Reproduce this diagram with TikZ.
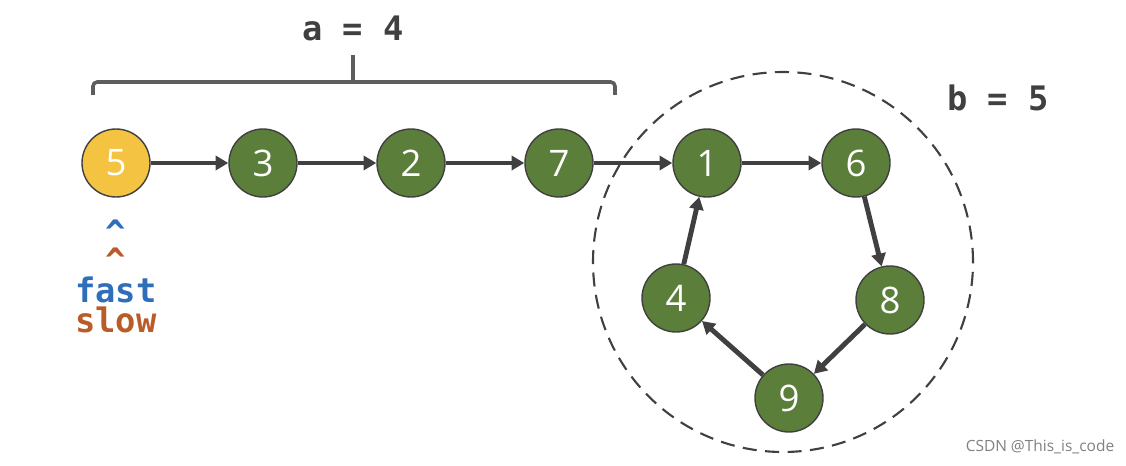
\documentclass[tikz,border=0pt]{standalone}
\usepackage{fontspec}
\setmainfont{Open Sans}
\newfontfamily\monob{DejaVu Sans Mono}
\usetikzlibrary{arrows.meta}
\definecolor{gn}{HTML}{5B7E3A}
\definecolor{yl}{HTML}{F5C342}
\definecolor{ar}{HTML}{404040}
\definecolor{bl}{HTML}{2F6FBA}
\definecolor{og}{HTML}{B85C2A}
\begin{document}
\begin{tikzpicture}[x=0.025cm,y=-0.025cm,
  nd/.style={circle,draw=ar,line width=1pt,fill=gn,minimum size=68*0.025cm,inner sep=0,text=white,font=\fontsize{26}{26}\selectfont},
  ed/.style={draw=ar,line width=3.5pt,-{Triangle[length=9pt,width=10pt]}},
  mono/.style={font=\fontsize{24}{24}\monob\bfseries,inner sep=0pt}]
\useasboundingbox (0,0) rectangle (1126,466);
\node[nd,fill=yl] (n5) at (116,163) {5};
\node[nd] (n3) at (263,163) {3};
\node[nd] (n2) at (411,163) {2};
\node[nd] (n7) at (559,163) {7};
\node[nd] (n1) at (707,163) {1};
\node[nd] (n6) at (856,163) {6};
\node[nd] (n8) at (890,300) {8};
\node[nd] (n9) at (789,398) {9};
\node[nd] (n4) at (676,298) {4};
\draw[ed] (n5)--(n3); \draw[ed] (n3)--(n2); \draw[ed] (n2)--(n7);
\draw[ed] (n7)--(n1); \draw[ed] (n1)--(n6); \draw[ed] (n6)--(n8);
\draw[ed] (n8)--(n9); \draw[ed] (n9)--(n4); \draw[ed] (n4)--(n1);
\node[draw=ar,line width=1.5pt,circle,minimum size=380*0.025cm,dash pattern=on 10pt off 6pt] (cyc) at (783,262) {};
\draw[draw=ar!85,line width=2.5pt,rounded corners=3pt] (93,95)--(93,82)--(615,82)--(615,95);
\coordinate (bt) at (353,82); \coordinate (bk) at (353,55);
\draw[draw=ar!85,line width=2.5pt] (bt)--(bk);
\node[mono,text=ar] (ta) at (353,28) {a = 4};
\node[mono,text=ar] (tb) at (998,98) {b = 5};
\node[mono,text=bl,text height=6pt] (c1) at (116,240) {\^{}};
\node[mono,text=og,text height=6pt] (c2) at (116,268) {\^{}};
\node[mono,text=bl] (tf) at (116,290) {fast};
\node[mono,text=og] (ts) at (116,320) {slow};
\node[text=gray,font=\fontsize{11}{11}\selectfont] (wm) at (1040,447) {CSDN @This\_is\_code};
\end{tikzpicture}
\end{document}
